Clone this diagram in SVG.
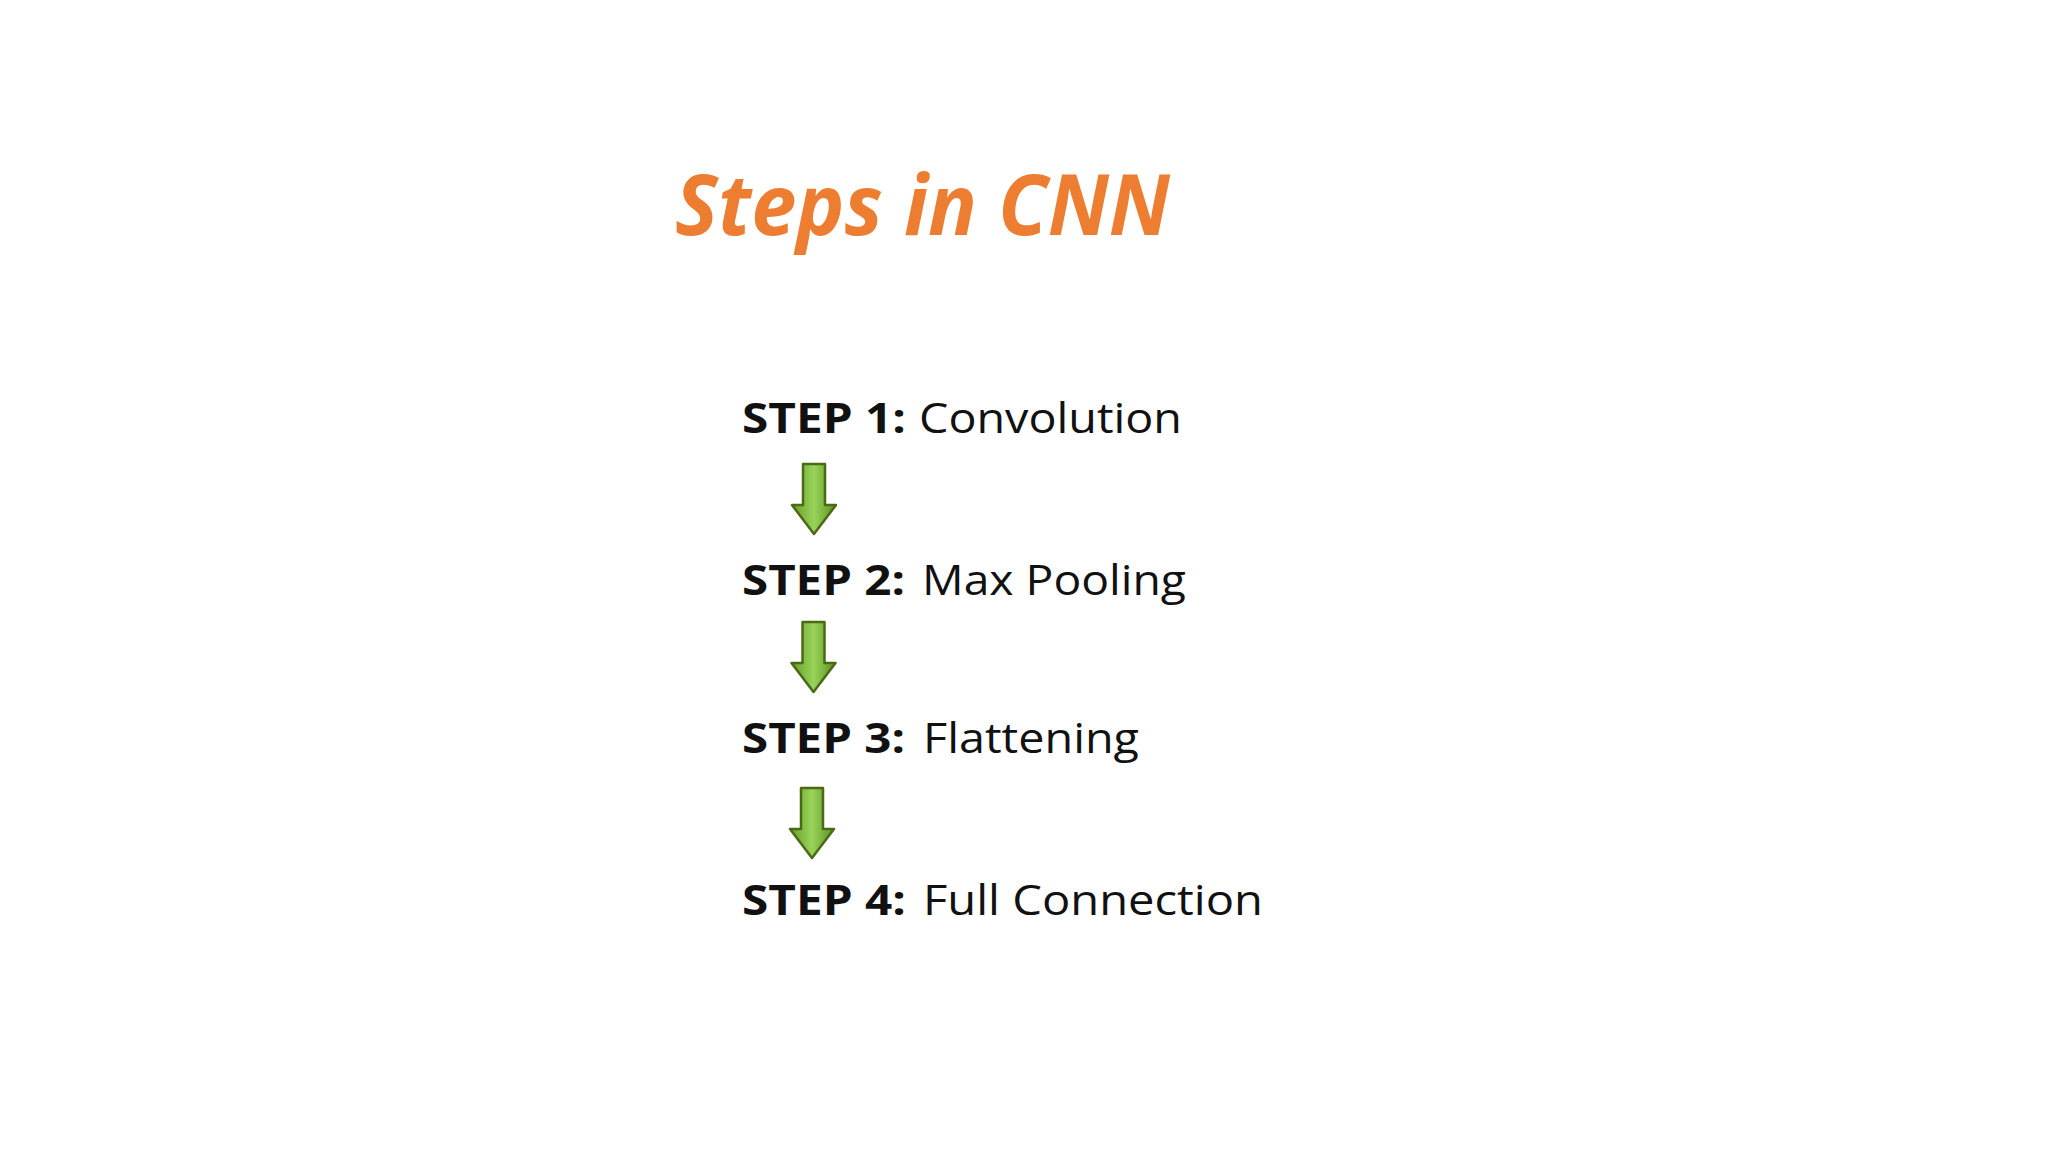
<svg xmlns="http://www.w3.org/2000/svg" width="2048" height="1152" viewBox="0 0 2048 1152">
  <style>
    .title { font-family: "Open Sans", "Liberation Sans", sans-serif; font-weight: 700; font-style: italic; font-size: 84px; fill: #ED7D31; }
    .b { font-family: "Open Sans", "Liberation Sans", sans-serif; font-weight: 700; font-size: 42px; fill: #111111; }
    .r { font-family: "Open Sans", "Liberation Sans", sans-serif; font-weight: 400; font-size: 42px; fill: #111111; }
    .arrow { fill: url(#g); stroke: #4a6a18; stroke-width: 2.5; stroke-linejoin: round; }
  </style>
  <defs>
    <linearGradient id="g" x1="0" y1="0" x2="1" y2="0">
      <stop offset="0" stop-color="#6a9e26"/>
      <stop offset="0.5" stop-color="#98d35a"/>
      <stop offset="1" stop-color="#5d9220"/>
    </linearGradient>
    <path id="arr" class="arrow" d="M -11 0 L 11 0 L 11 41 L 22 41 L 0 70 L -22 41 L -11 41 Z"/>
  </defs>
  <rect width="2048" height="1152" fill="#ffffff"/>
  <g id="title">
    <text class="title" x="675" y="235" textLength="495" lengthAdjust="spacingAndGlyphs">Steps in CNN</text>
  </g>
  <g id="step1">
    <text class="b" x="742" y="433" textLength="164" lengthAdjust="spacingAndGlyphs">STEP 1:</text>
    <text class="r" x="919" y="433" textLength="263" lengthAdjust="spacingAndGlyphs">Convolution</text>
  </g>
  <g id="step2">
    <text class="b" x="742" y="595" textLength="163" lengthAdjust="spacingAndGlyphs">STEP 2:</text>
    <text class="r" x="922" y="595" textLength="264" lengthAdjust="spacingAndGlyphs">Max Pooling</text>
  </g>
  <g id="step3">
    <text class="b" x="742" y="753" textLength="163" lengthAdjust="spacingAndGlyphs">STEP 3:</text>
    <text class="r" x="923" y="753" textLength="216" lengthAdjust="spacingAndGlyphs">Flattening</text>
  </g>
  <g id="step4">
    <text class="b" x="742" y="915" textLength="164" lengthAdjust="spacingAndGlyphs">STEP 4:</text>
    <text class="r" x="923" y="915" textLength="340" lengthAdjust="spacingAndGlyphs">Full Connection</text>
  </g>
  <g id="connectors">
    <use href="#arr" transform="translate(814,464)"/>
    <use href="#arr" transform="translate(813.5,622)"/>
    <use href="#arr" transform="translate(812,788)"/>
  </g>
</svg>
